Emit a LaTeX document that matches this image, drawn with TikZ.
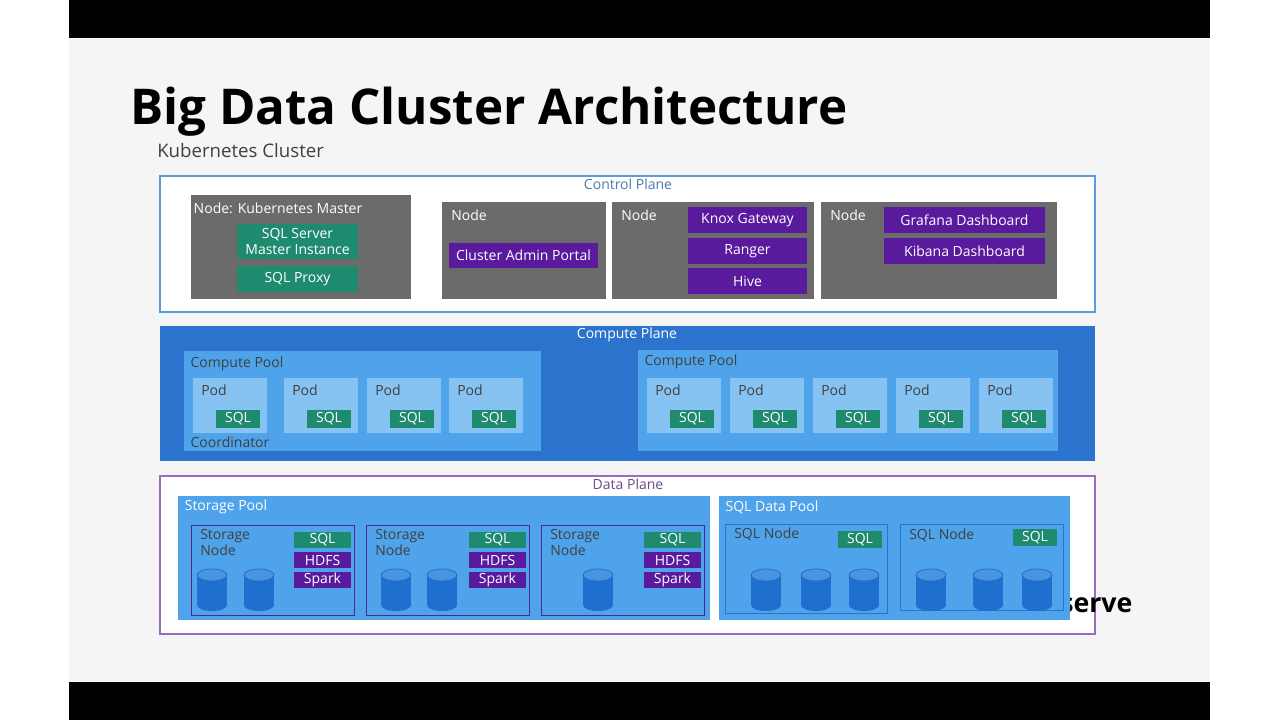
\documentclass[tikz,border=0pt]{standalone}
\usepackage{fontspec}
\setmainfont{Open Sans}
\usetikzlibrary{fit}
\definecolor{cpb}{HTML}{2B73CC}
\definecolor{pool}{HTML}{4FA3EA}
\definecolor{pod}{HTML}{86C3F2}
\definecolor{grn}{HTML}{1E8A6E}
\definecolor{prp}{HTML}{5A1A9E}
\definecolor{gry}{HTML}{6B6B6B}
\definecolor{cyl}{HTML}{1F6FCF}
\definecolor{cyltop}{HTML}{4A93DE}
\definecolor{ctl}{HTML}{5A9BD8}
\definecolor{dpl}{HTML}{9B6BBF}
\definecolor{snb}{HTML}{4B2A8A}
\newcommand\bx[6]{\node[#6, fit={(#2,#3)(#4,#5)}, inner sep=0pt] (#1) {};}
\newcommand\tx[3]{\node[#1] at (#2.center) {#3};}
\newcommand\cyl[3]{%
 \fill[cyl] (#2-15,#3-15) rectangle (#2+15,#3+15);
 \fill[cyl] (#2,#3+15) ellipse (15 and 6);
 \fill[cyltop, draw=cyl, line width=0.6pt] (#2,#3-15) ellipse (15 and 6);
 \coordinate (#1) at (#2,#3);}
\tikzset{
 t/.style={font=\fontsize{10.5}{12}\selectfont, inner sep=0pt, align=center},
 wt/.style={t, text=white},
 dt/.style={t, text=black!75},
 green/.style={fill=grn, draw=none},
 purple/.style={fill=prp, draw=none},
 gnode/.style={fill=gry, draw=none},
 poolb/.style={fill=pool, draw=none},
 podb/.style={fill=pod, draw=none}
}
\begin{document}
\begin{tikzpicture}[x=0.75pt,y=-0.75pt]
\useasboundingbox (0,0) rectangle (1280,720);
\fill[white] (0,0) rectangle (1280,720);
\fill[black!4] (69,38) rectangle (1210,682);
\fill[black] (69,0) rectangle (1210,38);
\fill[black] (69,682) rectangle (1210,720);
\node[anchor=west, font=\fontsize{37}{42}\selectfont\bfseries, inner sep=0pt] (title) at (130,112) {Big Data Cluster Architecture};
\node[anchor=west, font=\fontsize{14}{16}\selectfont, text=black!75, inner sep=0pt] (kc) at (157,151) {Kubernetes Cluster};
% control plane
\bx{cp}{160}{176}{1095}{312}{draw=ctl, fill=white, line width=0.8pt}
\node[t, text=ctl!80!black] (cpl) at (628,184) {Control Plane};
\bx{n1}{191}{195}{411}{299}{gnode}
\node[wt] (n1l) at (278,208) {Node: Kubernetes Master};
\bx{mi}{237}{224}{358}{259}{green}\tx{wt}{mi}{SQL Server\\Master Instance}
\bx{sp}{237}{266}{358}{292}{green}\tx{wt}{sp}{SQL Proxy}
\bx{n2}{442}{202}{606}{299}{gnode}
\node[wt] (n2l) at (469,215) {Node};
\bx{cap}{449}{243}{598}{268}{purple}\tx{wt}{cap}{Cluster Admin Portal}
\bx{n3}{612}{202}{814}{299}{gnode}
\node[wt] (n3l) at (639,215) {Node};
\bx{kg}{688}{207}{807}{233}{purple}\tx{wt}{kg}{Knox Gateway}
\bx{rg}{688}{238}{807}{264}{purple}\tx{wt}{rg}{Ranger}
\bx{hv}{688}{268}{807}{294}{purple}\tx{wt}{hv}{Hive}
\bx{n4}{821}{202}{1057}{299}{gnode}
\node[wt] (n4l) at (848,215) {Node};
\bx{gd}{884}{207}{1045}{233}{purple}\tx{wt}{gd}{Grafana Dashboard}
\bx{kd}{884}{238}{1045}{264}{purple}\tx{wt}{kd}{Kibana Dashboard}
% compute plane
\bx{cmp}{160}{326}{1095}{461}{fill=cpb, draw=none}
\node[wt] (cmpl) at (627,335) {Compute Plane};
\bx{p1}{184}{351}{541}{451}{poolb}
\node[dt] (p1l) at (237,364) {Compute Pool};
\node[dt] (coord) at (230,442) {Coordinator};
\foreach \x [count=\i] in {193,284,367,449}{
 \bx{pa\i}{\x}{378}{\x+74}{433}{podb}
 \node[dt, anchor=west] (pal\i) at (\x+8,390) {Pod};
 \bx{sa\i}{\x+23}{410}{\x+67}{428}{green}\tx{wt}{sa\i}{SQL}
}
\bx{p2}{638}{350}{1058}{451}{poolb}
\node[dt] (p2l) at (691,362) {Compute Pool};
\foreach \x [count=\i] in {647,730,813,896,979}{
 \bx{pb\i}{\x}{378}{\x+74}{433}{podb}
 \node[dt, anchor=west] (pbl\i) at (\x+8,390) {Pod};
 \bx{sb\i}{\x+23}{410}{\x+67}{428}{green}\tx{wt}{sb\i}{SQL}
}
% data plane
\bx{dp}{160}{476}{1095}{634}{draw=dpl, fill=white, line width=0.8pt}
\node[t, text=dpl!70!black] (dpl) at (628,484) {Data Plane};
\node[anchor=west, font=\fontsize{20}{22}\selectfont\bfseries, inner sep=0pt] (srv) at (1060,605) {serve};
\bx{stp}{178}{496}{710}{620}{poolb}
\node[wt] (stpl) at (226,507) {Storage Pool};
\foreach \x [count=\i] in {191,366,541}{
 \bx{sn\i}{\x}{525}{\x+163}{615}{draw=snb, fill=pool, line width=0.7pt}
 \node[dt, anchor=north west, align=left] (snl\i) at (\x+9,529) {Storage\\Node};
 \bx{sq\i}{\x+103}{532}{\x+160}{548}{green}\tx{wt}{sq\i}{SQL}
 \bx{hd\i}{\x+103}{552}{\x+160}{568}{purple}\tx{wt}{hd\i}{HDFS}
 \bx{sk\i}{\x+103}{572}{\x+160}{588}{purple}\tx{wt}{sk\i}{Spark}
}
\cyl{c1}{212}{590}\cyl{c2}{259}{590}\cyl{c3}{396}{590}\cyl{c4}{442}{590}\cyl{c5}{598}{590}
\bx{sdp}{719}{496}{1070}{620}{poolb}
\node[wt] (sdpl) at (772,507) {SQL Data Pool};
\bx{qn1}{725}{524}{887}{613}{draw=cpb, fill=pool, line width=0.6pt}
\node[dt, anchor=west] (qnl1) at (734,534) {SQL Node};
\bx{qs1}{838}{531}{882}{548}{green}\tx{wt}{qs1}{SQL}
\bx{qn2}{900}{524}{1063}{610}{draw=cpb, fill=pool, line width=0.6pt}
\node[dt, anchor=west] (qnl2) at (909,535) {SQL Node};
\bx{qs2}{1013}{529}{1057}{546}{green}\tx{wt}{qs2}{SQL}
\cyl{c6}{766}{590}\cyl{c7}{816}{590}\cyl{c8}{864}{590}
\cyl{c9}{931}{590}\cyl{c10}{988}{590}\cyl{c11}{1037}{590}
\end{tikzpicture}
\end{document}
